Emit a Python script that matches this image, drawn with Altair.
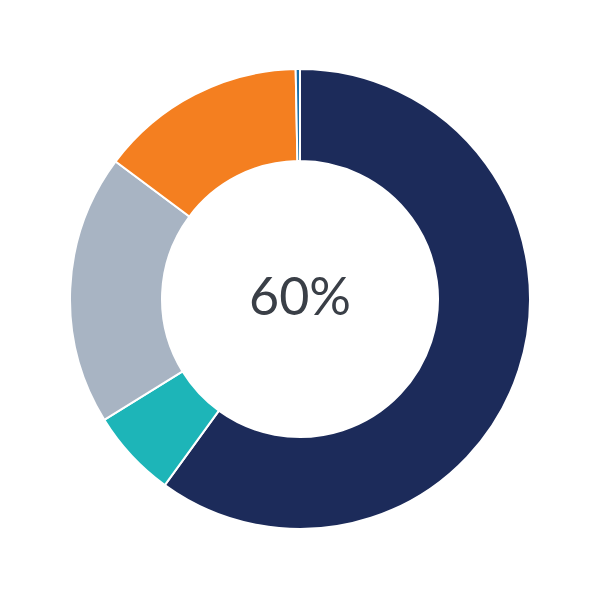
import altair as alt
import pandas as pd

categories = ["A", "B", "C", "D", "E"]
values = [60.0, 6.2, 19.0, 14.5, 0.3]
colors = ["#1c2b5a", "#1db5b8", "#a8b4c3", "#f47f20", "#1a6fa8"]
order = [0, 1, 2, 3, 4]
center_label = "60%"

df = pd.DataFrame({"cat": categories, "val": values, "ord": order})

arc = alt.Chart(df).mark_arc(innerRadius=138, outerRadius=230, stroke="white", strokeWidth=2).encode(
    theta=alt.Theta("val:Q", stack=True),
    order=alt.Order("ord:Q"),
    color=alt.Color("cat:N", scale=alt.Scale(domain=categories, range=colors), legend=None),
)

text = alt.Chart(pd.DataFrame({"t": [center_label]})).mark_text(
    font="Lato", fontSize=52, color="#3a3f47", baseline="middle", align="center"
).encode(text="t:N")

chart = (arc + text).properties(width=584, height=582, padding=0).configure_view(stroke=None)
chart.save("out.html", embed_options={"renderer": "svg", "actions": False})
